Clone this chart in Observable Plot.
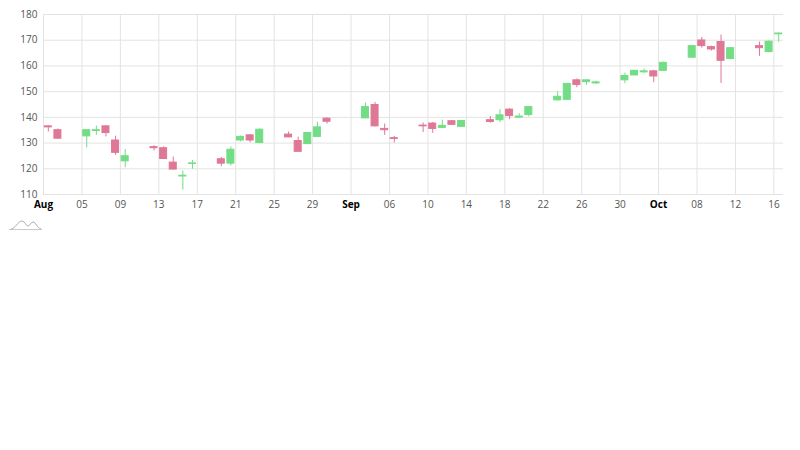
<!DOCTYPE html>
<html>
<head>
<meta charset="utf-8">
<script src="https://cdn.jsdelivr.net/npm/d3@7"></script>
<script src="https://cdn.jsdelivr.net/npm/@observablehq/plot@0.6"></script>
<style>
  html, body { margin: 0; padding: 0; background: #fff; }
  #wrap { position: relative; width: 800px; height: 450px; font-family: "Open Sans", sans-serif; }
  #logo { position: absolute; left: 8px; top: 217px; }
</style>
</head>
<body>
<div id="wrap">
  <div id="chart"></div>
  <svg id="logo" width="36" height="14" viewBox="0 0 36 14">
    <path d="M1 12.5 L34 12.5" stroke="#bbb" stroke-width="0.8" fill="none"/>
    <path d="M3 12 C7 12 10 4 14 4 C17 4 18 9 20 9 C22 9 23 5 25 5 C28 5 29 11 33 12" stroke="#999" stroke-width="0.8" fill="none"/>
  </svg>
</div>
<script>
const dates = ["2019-08-01","2019-08-02","2019-08-05","2019-08-06","2019-08-07","2019-08-08","2019-08-09",
  "2019-08-12","2019-08-13","2019-08-14","2019-08-15","2019-08-16","2019-08-19","2019-08-20","2019-08-21",
  "2019-08-22","2019-08-23","2019-08-26","2019-08-27","2019-08-28","2019-08-29","2019-08-30","2019-09-03",
  "2019-09-04","2019-09-05","2019-09-06","2019-09-09","2019-09-10","2019-09-11","2019-09-12","2019-09-13",
  "2019-09-16","2019-09-17","2019-09-18","2019-09-19","2019-09-20","2019-09-23","2019-09-24","2019-09-25",
  "2019-09-26","2019-09-27","2019-09-30","2019-10-01","2019-10-02","2019-10-03","2019-10-04","2019-10-07",
  "2019-10-08","2019-10-09","2019-10-10","2019-10-11","2019-10-14","2019-10-15","2019-10-16"];
const open  = [136.5,135.0,132.6,134.7,136.5,131.0,122.9,128.4,128.0,122.4,117.0,121.9,123.7,122.0,131.0,
  133.0,130.0,133.3,130.8,129.6,132.4,139.5,139.6,144.8,135.5,131.9,136.8,137.6,135.9,138.5,136.3,
  138.9,138.9,143.0,139.9,140.9,146.6,146.8,154.4,153.7,153.2,154.4,156.3,157.5,157.9,158.1,163.2,
  169.9,167.3,169.3,162.7,167.7,165.4,172.3];
const high  = [136.7,135.5,135.2,136.6,136.8,132.7,127.5,129.0,128.5,124.6,119.1,123.2,124.4,128.5,132.7,
  133.3,135.5,134.3,132.3,133.9,138.1,139.8,145.6,145.8,137.4,132.6,137.8,138.0,138.9,138.8,138.6,
  140.3,143.0,143.4,141.4,144.0,149.9,153.2,154.9,154.6,154.1,157.2,158.3,158.8,158.3,161.5,167.9,
  171.1,167.7,172.0,167.1,169.3,169.8,172.8];
const low   = [134.3,131.6,128.1,133.0,132.4,125.2,120.4,126.9,123.6,119.6,111.7,119.8,120.8,121.1,130.5,
  130.2,129.9,132.1,126.5,129.4,132.4,137.4,139.5,136.3,133.0,130.0,134.1,133.8,135.8,136.9,136.2,
  137.8,138.0,139.1,139.6,140.2,146.5,146.7,151.5,152.5,152.8,153.1,156.2,157.1,153.5,158.0,163.1,
  166.9,165.8,153.2,162.4,163.7,165.1,169.2];
const close = [136.1,131.7,135.0,135.0,133.9,126.2,124.9,128.0,123.8,119.7,117.3,122.1,122.0,127.4,132.4,
  131.0,135.2,132.2,126.6,133.9,136.1,138.3,144.0,136.5,135.0,131.6,136.5,135.5,136.7,137.1,138.6,
  138.2,140.8,140.5,140.3,144.0,148.0,153.0,152.6,154.4,153.6,156.1,158.1,157.9,155.9,161.2,167.7,
  167.7,166.4,162.0,166.9,166.9,169.4,172.6];

const tickDates = ["2019-08-01","2019-08-05","2019-08-09","2019-08-13","2019-08-17","2019-08-21","2019-08-25",
  "2019-08-29","2019-09-02","2019-09-06","2019-09-10","2019-09-14","2019-09-18","2019-09-22","2019-09-26",
  "2019-09-30","2019-10-04","2019-10-08","2019-10-12","2019-10-16"];
const tickLabels = ["Aug","05","09","13","17","21","25","29","Sep","06","10","14","18","22","26","30","Oct","08","12","16"];
const yTicks = [110,120,130,140,150,160,170,180];

const DAY = 864e5;
const rows = dates.map((d, i) => ({
  date: new Date(d), open: open[i], high: high[i], low: low[i], close: close[i],
  dir: close[i] >= open[i] ? "up" : "down"
}));
const ticks = tickDates.map((d, i) => ({date: new Date(d), label: tickLabels[i], month: /[A-Za-z]/.test(tickLabels[i])}));

const chart = Plot.plot({
  width: 800, height: 235,
  marginTop: 14, marginBottom: 41, marginLeft: 43, marginRight: 17,
  style: {fontFamily: "'Open Sans', sans-serif", fontSize: "10px", background: "#fff"},
  x: {type: "utc", domain: [new Date("2019-08-01"), new Date("2019-10-17")], axis: null},
  y: {domain: [110, 180]},
  color: {domain: ["up", "down"], range: ["#72dd84", "#df7796"]},
  marks: [
    Plot.gridX(ticks.map(t => t.date), {stroke: "#e3e3e3", strokeOpacity: 1}),
    Plot.gridY(yTicks, {stroke: "#e3e3e3", strokeOpacity: 1}),
    Plot.axisY(yTicks, {tickSize: 0, tickPadding: 6, fill: "#555", label: null}),
    Plot.ruleX(rows, {x: d => new Date(+d.date + DAY / 2), y1: "low", y2: "high", stroke: "dir", strokeWidth: 1}),
    Plot.rectY(rows, {x1: "date", x2: d => new Date(+d.date + DAY), y1: "open", y2: "close",
      fill: "dir", stroke: "dir", strokeWidth: 1, insetLeft: 1.3, insetRight: 1.3}),
    Plot.text(ticks.filter(t => !t.month), {x: "date", text: "label", frameAnchor: "bottom", dy: 13.5, fill: "#555"}),
    Plot.text(ticks.filter(t => t.month), {x: "date", text: "label", frameAnchor: "bottom", dy: 13.5, fill: "#000", fontWeight: "bold"})
  ]
});
document.getElementById("chart").appendChild(chart);
</script>
</body>
</html>
